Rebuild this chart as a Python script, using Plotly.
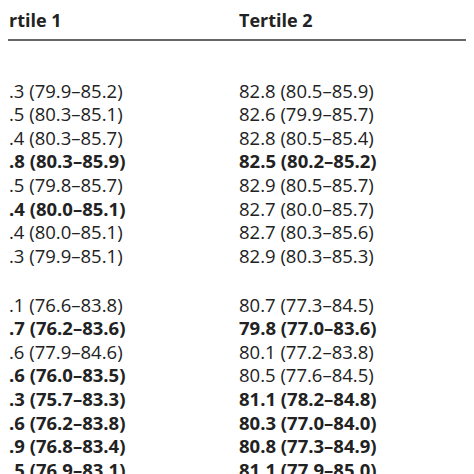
import plotly.graph_objects as go

headers = ["rtile 1", "Tertile 2"]
group1_col1 = [".3 (79.9–85.2)", ".5 (80.3–85.1)", ".4 (80.3–85.7)", ".8 (80.3–85.9)",
               ".5 (79.8–85.7)", ".4 (80.0–85.1)", ".4 (80.0–85.1)", ".3 (79.9–85.1)"]
group1_col2 = ["82.8 (80.5–85.9)", "82.6 (79.9–85.7)", "82.8 (80.5–85.4)", "82.5 (80.2–85.2)",
               "82.9 (80.5–85.7)", "82.7 (80.0–85.7)", "82.7 (80.3–85.6)", "82.9 (80.3–85.3)"]
group1_bold1 = [0, 0, 0, 1, 0, 1, 0, 0]
group1_bold2 = [0, 0, 0, 1, 0, 0, 0, 0]
group2_col1 = [".1 (76.6–83.8)", ".7 (76.2–83.6)", ".6 (77.9–84.6)", ".6 (76.0–83.5)",
               ".3 (75.7–83.3)", ".6 (76.2–83.8)", ".9 (76.8–83.4)", ".5 (76.9–83.1)"]
group2_col2 = ["80.7 (77.3–84.5)", "79.8 (77.0–83.6)", "80.1 (77.2–83.8)", "80.5 (77.6–84.5)",
               "81.1 (78.2–84.8)", "80.3 (77.0–84.0)", "80.8 (77.3–84.9)", "81.1 (77.9–85.0)"]
group2_bold1 = [0, 1, 0, 1, 1, 1, 1, 1]
group2_bold2 = [0, 1, 0, 0, 1, 1, 1, 1]

fig = go.Figure()
ann = []
color = "#222222"
colx = [0, 230]

def add(text, x, y, bold, size):
    t = f"<b>{text}</b>" if bold else text
    ann.append(dict(text=t, x=x, y=y, xref="x", yref="y", showarrow=False,
                    xanchor="left", yanchor="middle", borderpad=0,
                    font=dict(family="Open Sans, Noto Sans, sans-serif", size=size, color=color)))

for i, h in enumerate(headers):
    add(h, colx[i], 12, True, 18)

for g, (c1, c2, b1, b2, y0) in enumerate([
        (group1_col1, group1_col2, group1_bold1, group1_bold2, 82),
        (group2_col1, group2_col2, group2_bold1, group2_bold2, 296)]):
    for r in range(len(c1)):
        y = y0 + r * 23.6
        add(c1[r], colx[0], y, b1[r], 18.5)
        add(c2[r], colx[1], y, b2[r], 18.5)

fig.add_shape(type="line", x0=0, x1=474, y0=32, y1=32, xref="x", yref="y",
              line=dict(color="#333333", width=1.5))

fig.update_layout(width=474, height=474, margin=dict(l=0, r=0, t=0, b=0),
                  paper_bgcolor="white", plot_bgcolor="white", annotations=ann,
                  xaxis=dict(range=[0, 474], visible=False),
                  yaxis=dict(range=[474, 0], visible=False),
                  showlegend=False)
fig.write_html("out.html")
